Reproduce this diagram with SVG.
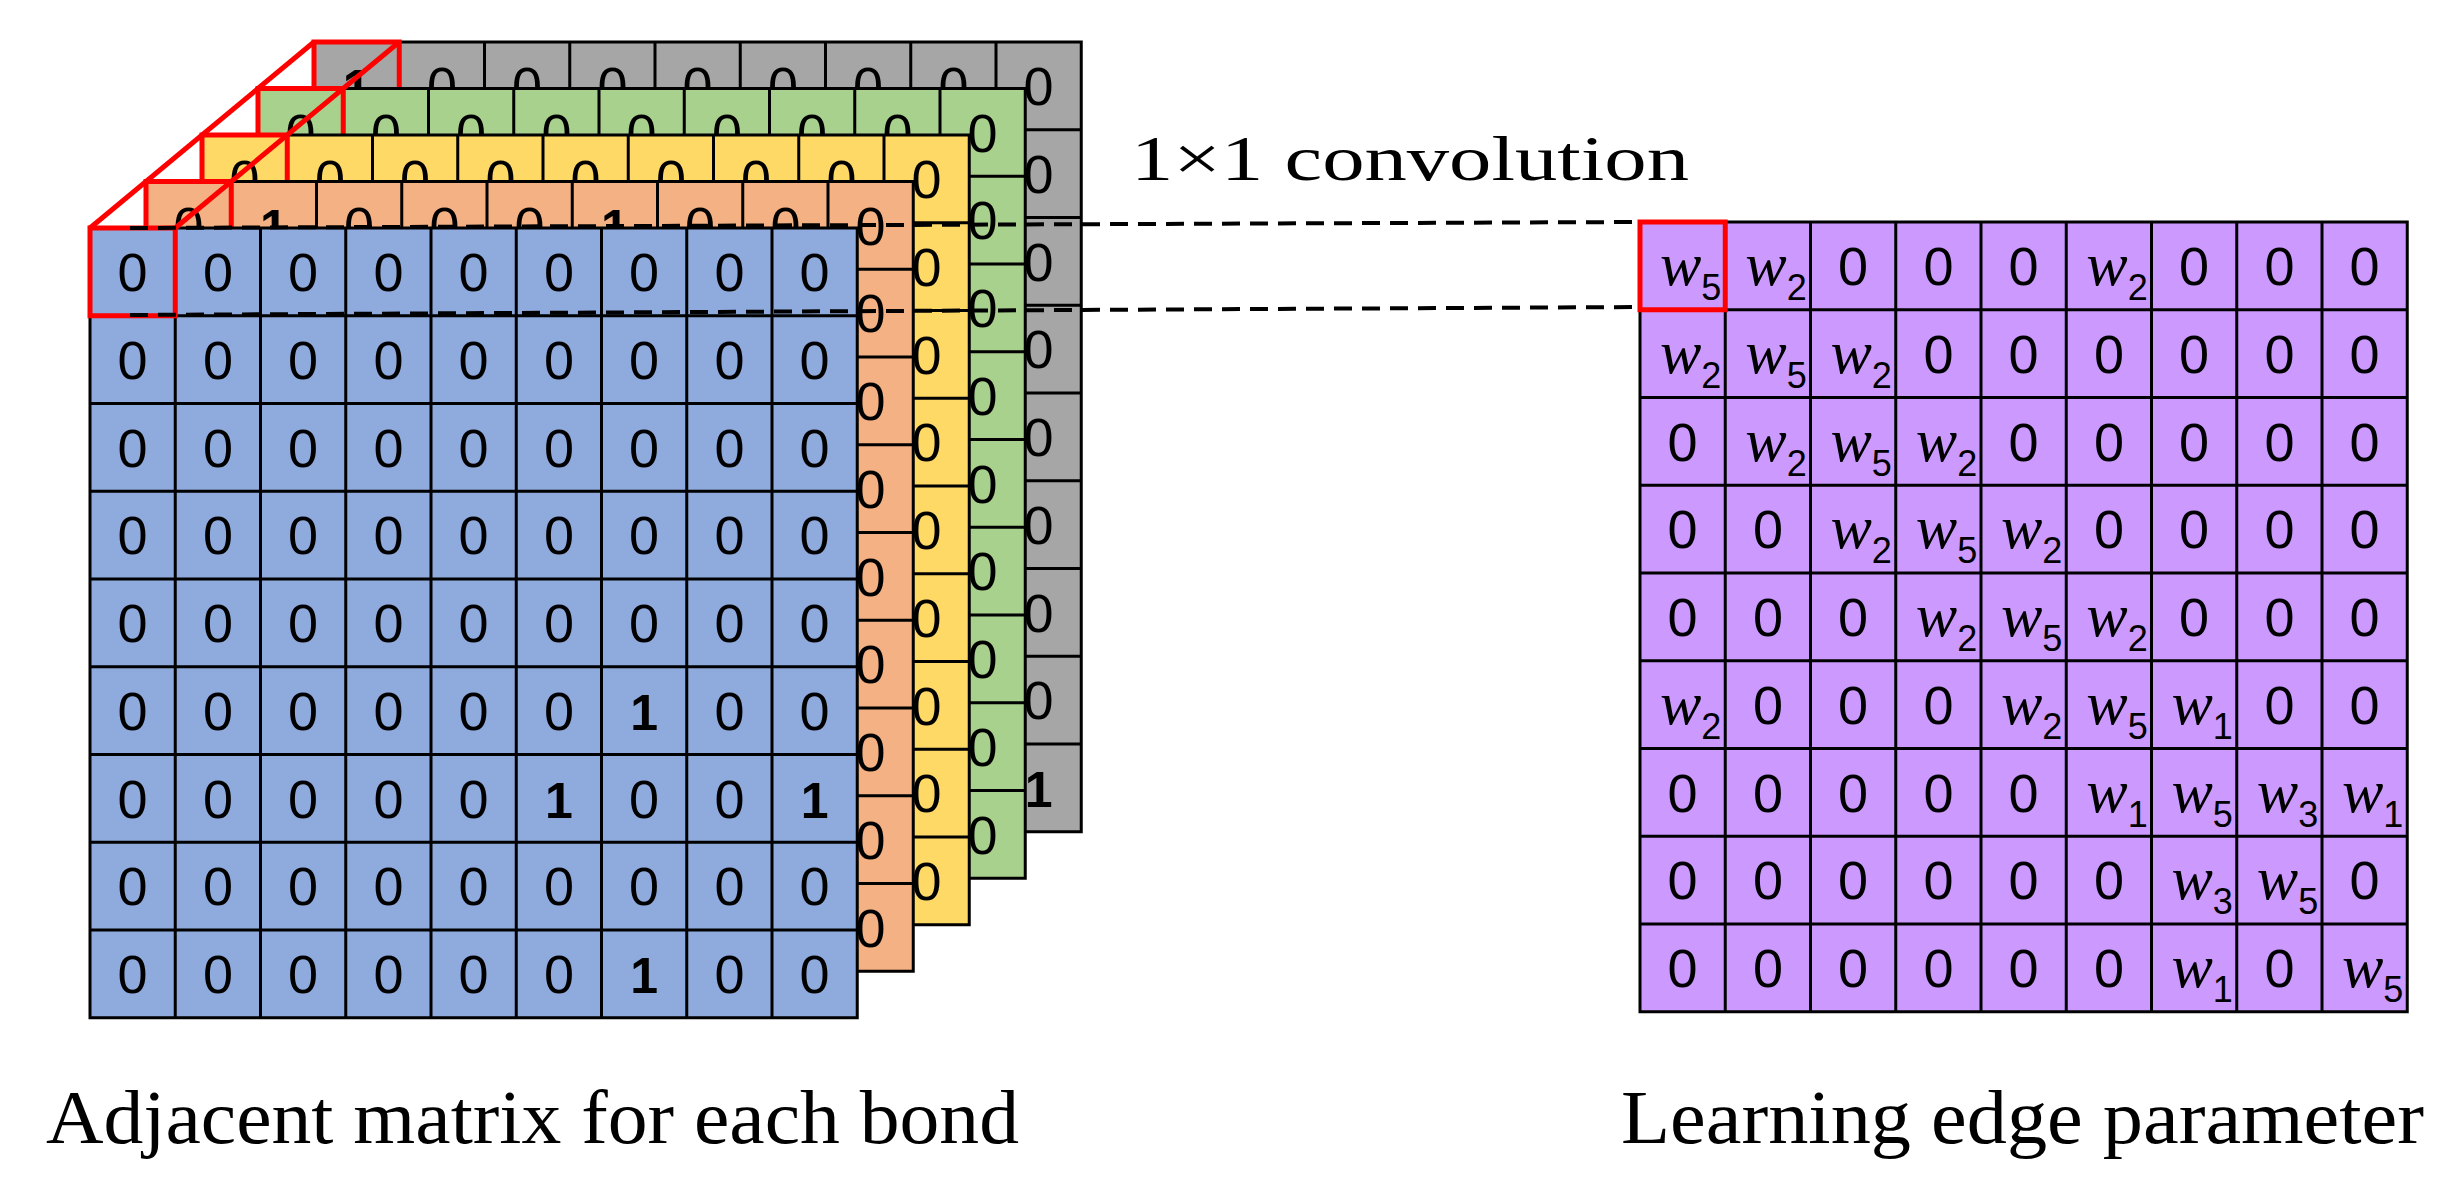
<svg xmlns="http://www.w3.org/2000/svg" width="2463" height="1182" viewBox="0 0 2463 1182">
<style>
.d{font-family:"Liberation Sans Narrow","Liberation Sans",sans-serif;font-size:54px;text-anchor:middle;fill:#000}
.b{font-family:"Liberation Sans",sans-serif;font-size:50px;font-weight:bold;text-anchor:middle;fill:#000}
.w{font-family:"Liberation Serif",serif;font-style:italic;font-size:62px;fill:#000}
.s{font-style:normal;font-size:36px;font-family:"Liberation Sans Narrow","Liberation Sans",sans-serif}
.g{fill:none;stroke:#000;stroke-width:3}
.red{fill:none;stroke:#FF0000;stroke-width:5}
.lbl{font-family:"Liberation Serif",serif;fill:#000}
</style>
<defs>
<path id="grid" d="M0 0H767.25V789.75H0ZM85.25 0V789.75M170.5 0V789.75M255.75 0V789.75M341 0V789.75M426.25 0V789.75M511.5 0V789.75M596.75 0V789.75M682 0V789.75M0 87.75H767.25M0 175.5H767.25M0 263.25H767.25M0 351H767.25M0 438.75H767.25M0 526.5H767.25M0 614.25H767.25M0 702H767.25"/>
</defs>
<rect width="2463" height="1182" fill="#fff"/>

<g id="layer-gray" transform="translate(314,42)">
<rect width="767.25" height="789.75" fill="#A6A6A6"/>
<use href="#grid" class="g"/>
<text class="b" x="42.6" y="63">1</text>
<text class="d" x="127.9 213.1 298.4 383.6 468.9 554.1 639.4 724.6" y="63">00000000</text>
<text class="d" x="724.6 724.6 724.6 724.6 724.6 724.6 724.6" y="150.8 238.5 326.3 414 501.8 589.5 677.3">0000000</text>
<text class="b" x="724.6" y="765">1</text>
<rect class="red" width="85.25" height="87.75"/>
</g>

<g id="layer-green" transform="translate(258,88.5)">
<rect width="767.25" height="789.75" fill="#A9D18E"/>
<use href="#grid" class="g"/>
<text class="d" x="42.6 127.9 213.1 298.4 383.6 468.9 554.1 639.4 724.6" y="63">000000000</text>
<text class="d" x="724.6 724.6 724.6 724.6 724.6 724.6 724.6 724.6" y="150.8 238.5 326.3 414 501.8 589.5 677.3 765">00000000</text>
<rect class="red" width="85.25" height="87.75"/>
</g>

<g id="layer-yellow" transform="translate(202,135)">
<rect width="767.25" height="789.75" fill="#FFD966"/>
<use href="#grid" class="g"/>
<text class="d" x="42.6 127.9 213.1 298.4 383.6 468.9 554.1 639.4 724.6" y="63">000000000</text>
<text class="d" x="724.6 724.6 724.6 724.6 724.6 724.6 724.6 724.6" y="150.8 238.5 326.3 414 501.8 589.5 677.3 765">00000000</text>
<rect class="red" width="85.25" height="87.75"/>
</g>

<g id="layer-orange" transform="translate(146,181.5)">
<rect width="767.25" height="789.75" fill="#F4B183"/>
<use href="#grid" class="g"/>
<text class="d" x="42.6 213.1 298.4 383.6 554.1 639.4 724.6" y="63">0000000</text>
<text class="b" x="127.9" y="63">1</text>
<text class="b" x="468.9" y="63">1</text>
<text class="d" x="724.6 724.6 724.6 724.6 724.6 724.6 724.6 724.6" y="150.8 238.5 326.3 414 501.8 589.5 677.3 765">00000000</text>
<rect class="red" width="85.25" height="87.75"/>
</g>

<g id="layer-blue" transform="translate(90,228)">
<rect width="767.25" height="789.75" fill="#8FAADC"/>
<use href="#grid" class="g"/>
<text class="d" x="42.6 127.9 213.1 298.4 383.6 468.9 554.1 639.4 724.6" y="63">000000000</text>
<text class="d" x="42.6 127.9 213.1 298.4 383.6 468.9 554.1 639.4 724.6" y="150.8">000000000</text>
<text class="d" x="42.6 127.9 213.1 298.4 383.6 468.9 554.1 639.4 724.6" y="238.5">000000000</text>
<text class="d" x="42.6 127.9 213.1 298.4 383.6 468.9 554.1 639.4 724.6" y="326.3">000000000</text>
<text class="d" x="42.6 127.9 213.1 298.4 383.6 468.9 554.1 639.4 724.6" y="414">000000000</text>
<text class="d" x="42.6 127.9 213.1 298.4 383.6 468.9 639.4 724.6" y="501.8">00000000</text>
<text class="b" x="554.1" y="501.8">1</text>
<text class="d" x="42.6 127.9 213.1 298.4 383.6 554.1 639.4" y="589.5">0000000</text>
<text class="b" x="468.9" y="589.5">1</text>
<text class="b" x="724.6" y="589.5">1</text>
<text class="d" x="42.6 127.9 213.1 298.4 383.6 468.9 554.1 639.4 724.6" y="677.3">000000000</text>
<text class="d" x="42.6 127.9 213.1 298.4 383.6 468.9 639.4 724.6" y="765">00000000</text>
<text class="b" x="554.1" y="765">1</text>
<rect class="red" width="85.25" height="87.75"/>
</g>

<g id="highlight">
<line x1="90" y1="228" x2="314" y2="42" stroke="#FF0000" stroke-width="5"/>
<line x1="175.25" y1="228" x2="399.25" y2="42" stroke="#FF0000" stroke-width="5"/>
</g>

<g id="connectors" stroke="#000" stroke-width="4" stroke-dasharray="18 10">
<line x1="130" y1="228" x2="1640" y2="222"/>
<line x1="130" y1="315" x2="1640" y2="307"/>
</g>

<g id="output-matrix" transform="translate(1640,222)">
<rect width="767.25" height="789.75" fill="#CC99FF"/>
<use href="#grid" class="g"/>
<text class="w" x="20" y="63">w<tspan class="s" dy="15">5</tspan></text>
<text class="w" x="105.3" y="63">w<tspan class="s" dy="15">2</tspan></text>
<text class="w" x="446.3" y="63">w<tspan class="s" dy="15">2</tspan></text>
<text class="d" x="213.1 298.4 383.6 554.1 639.4 724.6" y="63">000000</text>
<text class="w" x="20" y="150.8">w<tspan class="s" dy="15">2</tspan></text>
<text class="w" x="105.3" y="150.8">w<tspan class="s" dy="15">5</tspan></text>
<text class="w" x="190.5" y="150.8">w<tspan class="s" dy="15">2</tspan></text>
<text class="d" x="298.4 383.6 468.9 554.1 639.4 724.6" y="150.8">000000</text>
<text class="d" x="42.6 383.6 468.9 554.1 639.4 724.6" y="238.5">000000</text>
<text class="w" x="105.3" y="238.5">w<tspan class="s" dy="15">2</tspan></text>
<text class="w" x="190.5" y="238.5">w<tspan class="s" dy="15">5</tspan></text>
<text class="w" x="275.8" y="238.5">w<tspan class="s" dy="15">2</tspan></text>
<text class="d" x="42.6 127.9 468.9 554.1 639.4 724.6" y="326.3">000000</text>
<text class="w" x="190.5" y="326.3">w<tspan class="s" dy="15">2</tspan></text>
<text class="w" x="275.8" y="326.3">w<tspan class="s" dy="15">5</tspan></text>
<text class="w" x="361" y="326.3">w<tspan class="s" dy="15">2</tspan></text>
<text class="d" x="42.6 127.9 213.1 554.1 639.4 724.6" y="414">000000</text>
<text class="w" x="275.8" y="414">w<tspan class="s" dy="15">2</tspan></text>
<text class="w" x="361" y="414">w<tspan class="s" dy="15">5</tspan></text>
<text class="w" x="446.3" y="414">w<tspan class="s" dy="15">2</tspan></text>
<text class="w" x="20" y="501.8">w<tspan class="s" dy="15">2</tspan></text>
<text class="d" x="127.9 213.1 298.4 639.4 724.6" y="501.8">00000</text>
<text class="w" x="361" y="501.8">w<tspan class="s" dy="15">2</tspan></text>
<text class="w" x="446.3" y="501.8">w<tspan class="s" dy="15">5</tspan></text>
<text class="w" x="531.5" y="501.8">w<tspan class="s" dy="15">1</tspan></text>
<text class="d" x="42.6 127.9 213.1 298.4 383.6" y="589.5">00000</text>
<text class="w" x="446.3" y="589.5">w<tspan class="s" dy="15">1</tspan></text>
<text class="w" x="531.5" y="589.5">w<tspan class="s" dy="15">5</tspan></text>
<text class="w" x="616.8" y="589.5">w<tspan class="s" dy="15">3</tspan></text>
<text class="w" x="702" y="589.5">w<tspan class="s" dy="15">1</tspan></text>
<text class="d" x="42.6 127.9 213.1 298.4 383.6 468.9 724.6" y="677.3">0000000</text>
<text class="w" x="531.5" y="677.3">w<tspan class="s" dy="15">3</tspan></text>
<text class="w" x="616.8" y="677.3">w<tspan class="s" dy="15">5</tspan></text>
<text class="d" x="42.6 127.9 213.1 298.4 383.6 468.9 639.4" y="765">0000000</text>
<text class="w" x="531.5" y="765">w<tspan class="s" dy="15">1</tspan></text>
<text class="w" x="702" y="765">w<tspan class="s" dy="15">5</tspan></text>
<rect class="red" width="85.25" height="87.75"/>
</g>

<g id="labels">
<text class="lbl" x="1131" y="180" font-size="64" textLength="558" lengthAdjust="spacingAndGlyphs">1×1 convolution</text>
<text class="lbl" x="46" y="1143" font-size="76" textLength="973" lengthAdjust="spacingAndGlyphs">Adjacent matrix for each bond</text>
<text class="lbl" x="1621" y="1143" font-size="76" textLength="803" lengthAdjust="spacingAndGlyphs">Learning edge parameter</text>
</g>
</svg>
